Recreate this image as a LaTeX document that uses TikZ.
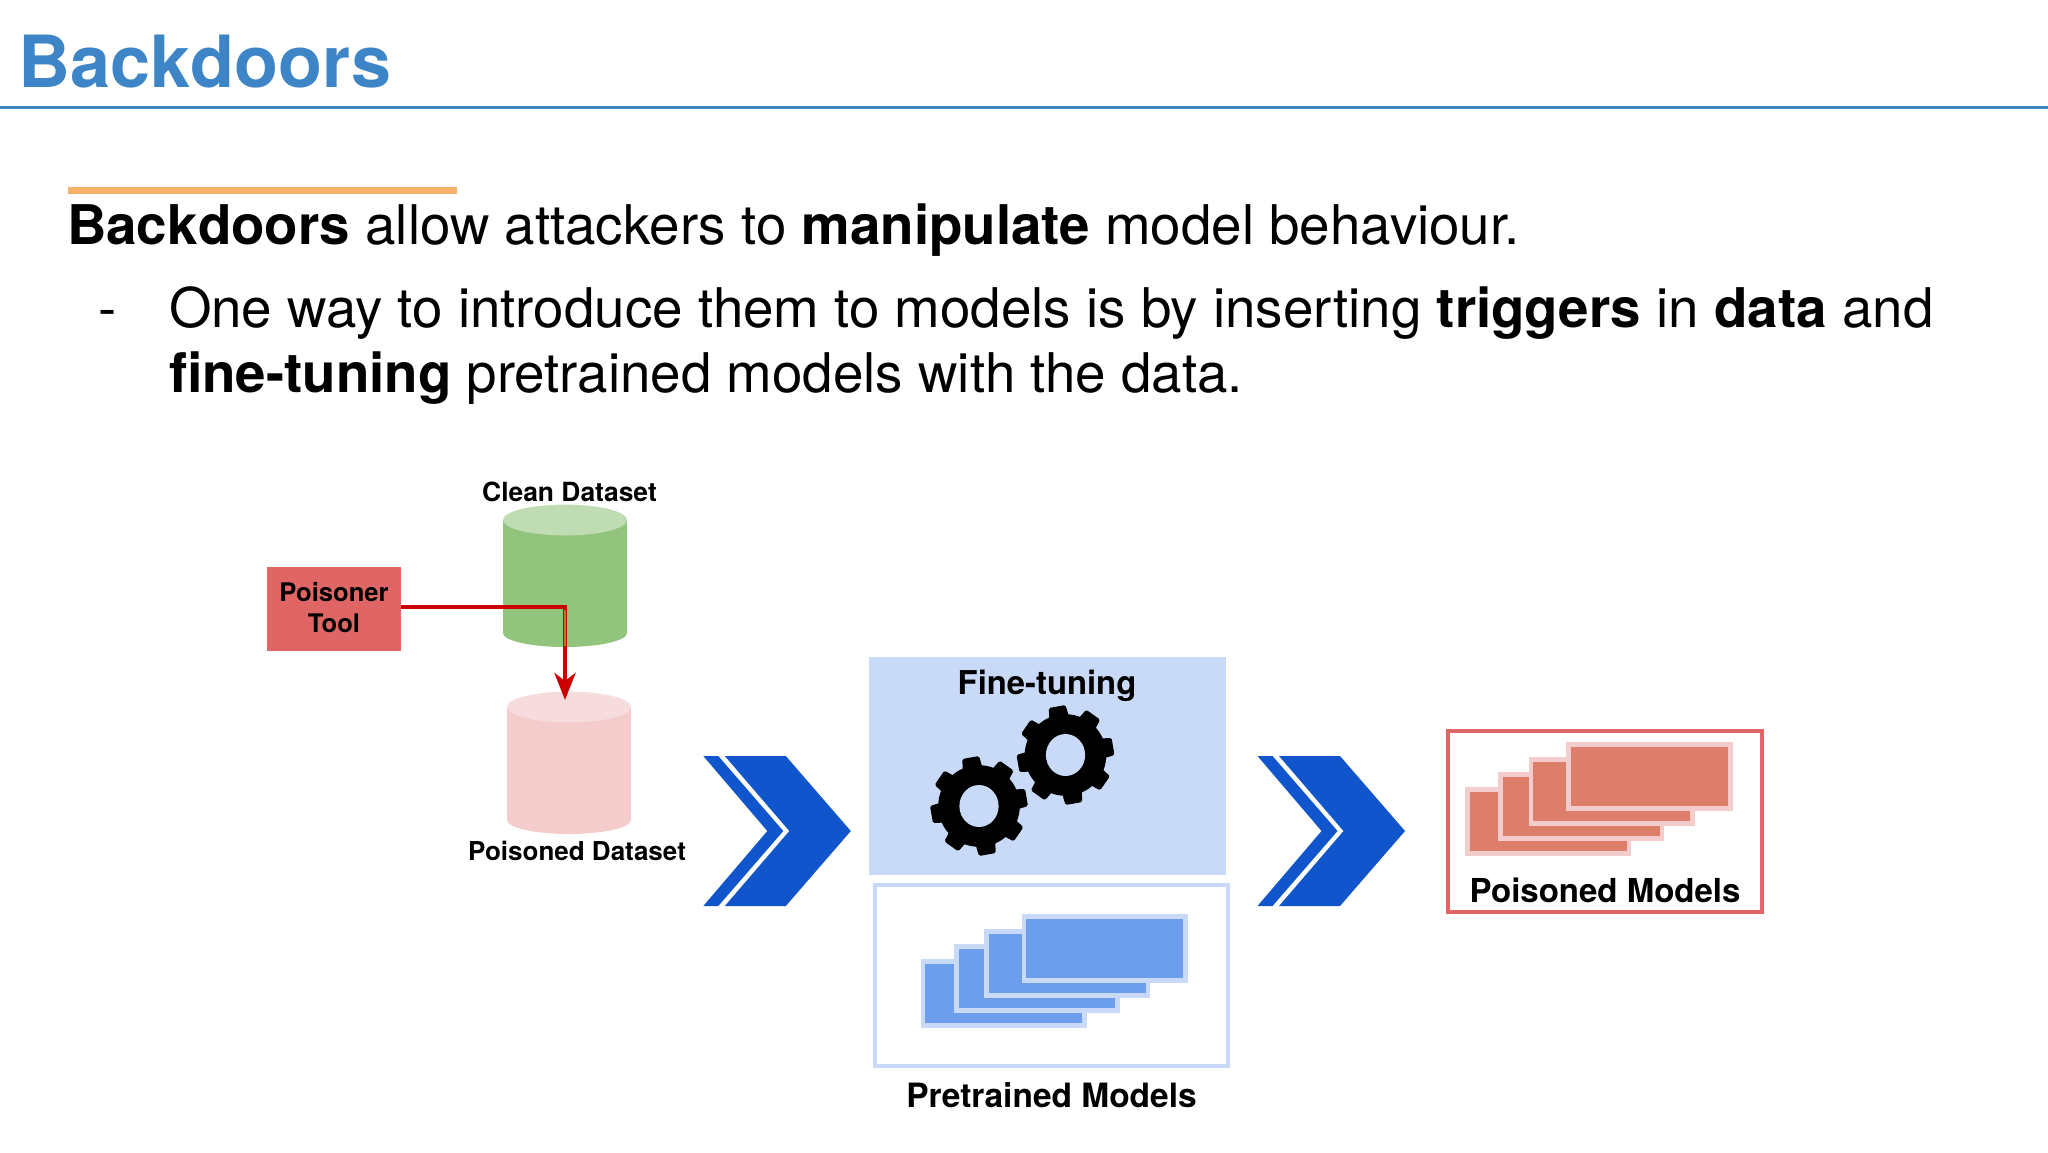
\documentclass[tikz,border=0pt]{standalone}
\usepackage{fontspec}
\setmainfont{TeX Gyre Heros}
\usetikzlibrary{arrows.meta,calc}
\definecolor{titleblue}{HTML}{3D85C6}
\definecolor{barorange}{HTML}{F6B26B}
\definecolor{toolred}{HTML}{E06666}
\definecolor{linered}{HTML}{CC0000}
\definecolor{overlapbrown}{HTML}{BE7A10}
\definecolor{chevblue}{HTML}{1155CC}
\definecolor{paleblue}{HTML}{C9DAF8}
\definecolor{midblue}{HTML}{6D9EEB}
\definecolor{palered}{HTML}{F4CCCC}
\definecolor{midred}{HTML}{DD7E6B}
\definecolor{cleanside}{HTML}{93C47D}
\definecolor{cleantop}{HTML}{BFDCB2}
\definecolor{pinktop}{HTML}{F6DCDC}
\tikzset{
  txt/.style={anchor=base west,inner sep=0pt,outer sep=0pt,text=black},
  lbl/.style={anchor=base,inner sep=0pt,outer sep=0pt,text=black,font=\bfseries\fontsize{#1}{#1}\selectfont},
  body/.style={txt,font=\fontsize{27.35}{27.35}\selectfont},
  cylbody/.style={fill=#1,inner sep=0pt,outer sep=0pt,minimum width=62pt,minimum height=56.5pt},
  frame/.style={line width=1.8pt,fill=white},
  card/.style={line width=2.4pt},
  chev/.style={fill=chevblue,draw=none},
}
\newcommand{\gearshape}[2]{%
  \begin{scope}[shift={(#1,#2)},x=24.5pt,y=25pt]
    \fill[black] (0,0) circle[radius=20.4pt];
    \foreach \a in {100,55,10,-35,-80,-125,-170,145}{
      \fill[black,rounded corners=0.8pt] (\a-15:0.78) -- (\a-10:1) -- (\a+10:1) -- (\a+15:0.78) -- cycle;
    }
    \fill[paleblue] (0,0) circle[x radius=9.8pt,y radius=10.5pt];
  \end{scope}}
\newcommand{\chevron}[1]{%
  \begin{scope}[shift={(#1,0)}]
    \fill[chev] (21.5,756) -- (82.5,756) -- (147.5,831) -- (82.5,906) -- (21.5,906) -- (86,831) -- cycle;
    \fill[chev] (0,756) -- (15,756) -- (80,831) -- (15,906) -- (0,906) -- (64,831) -- cycle;
  \end{scope}}
\begin{document}
\begin{tikzpicture}[x=0.5pt,y=-0.5pt]
\useasboundingbox (0,0) rectangle (2048,1152);
% header
\node[anchor=base west,inner sep=0pt,text=titleblue,font=\bfseries\fontsize{36}{36}\selectfont] (title) at (18,87) {Backdoors};
\fill[titleblue] (0,106) rectangle (2048,108.5);
\fill[barorange] (68,187) rectangle (457,194);
% body
\node[body] (l1) at (67,244) {\textbf{Backdoors} allow attackers to \textbf{manipulate} model behaviour.};
\node[body] (dash) at (98,327) {-};
\node[body] (l2) at (169,327) {One way to introduce them to models is by inserting \textbf{triggers} in \textbf{data} and};
\node[body] (l3) at (169,392) {\textbf{fine-tuning} pretrained models with the data.};
% datasets
\node[cylbody=cleanside] (clean) at (565,576.5) {};
\fill[cleanside] (clean.south) ellipse[x radius=31pt,y radius=7pt];
\fill[cleantop] (clean.north) ellipse[x radius=31pt,y radius=7.7pt];
\node[cylbody=palered] (poisoned) at (569,763.5) {};
\fill[palered] (poisoned.south) ellipse[x radius=31pt,y radius=7pt];
\fill[pinktop] (poisoned.north) ellipse[x radius=31pt,y radius=7.7pt];
\node[lbl=13.2] (cleanlbl) at (569.5,501.5) {Clean Dataset};
\node[lbl=13] (poisonedlbl) at (577,860) {Poisoned Dataset};
\node[fill=toolred,inner sep=0pt,outer sep=0pt,minimum width=67pt,minimum height=42pt] (tool) at (334,609) {};
\node[lbl=12.8] (toolA) at (334,601) {Poisoner};
\node[lbl=12.8] (toolB) at (334,632) {Tool};
\coordinate (tip) at (565,700);
\draw[linered,line width=2.4pt,-{Stealth[length=13.5pt,width=10.5pt,inset=4pt]}] ([yshift=1pt]tool.east) -| (tip);
\draw[overlapbrown,line width=1.1pt] (565,610) -- (565,646);
% chevrons
\chevron{703.3}
\chevron{1257.5}
% fine-tuning
\node[fill=paleblue,inner sep=0pt,outer sep=0pt,minimum width=178.5pt,minimum height=109pt] (fine) at (1047,766) {};
\node[lbl=16.4] (finelbl) at (1047,694) {Fine-tuning};
\gearshape{979}{806}
\gearshape{1065.5}{755}
% pretrained
\draw[frame,draw=paleblue] (875,885) rectangle (1228,1066);
\foreach \x/\y in {920.5/959,953.8/944,984/929,1021.5/914}{
  \draw[card,draw=paleblue,fill=midblue] (\x+2.4,\y+2.4) rectangle (\x+164,\y+66.6);
}
\node[lbl=16.74] (prelbl) at (1051.5,1107) {Pretrained Models};
% poisoned models
\draw[frame,draw=toolred] (1448,731) rectangle (1762,912);
\foreach \x/\y in {1465/787,1498/772,1528.6/757,1566.4/742}{
  \draw[card,draw=palered,fill=midred] (\x+2.4,\y+2.4) rectangle (\x+164,\y+66.6);
}
\node[lbl=16.5] (poislbl) at (1605,902) {Poisoned Models};
\end{tikzpicture}
\end{document}
